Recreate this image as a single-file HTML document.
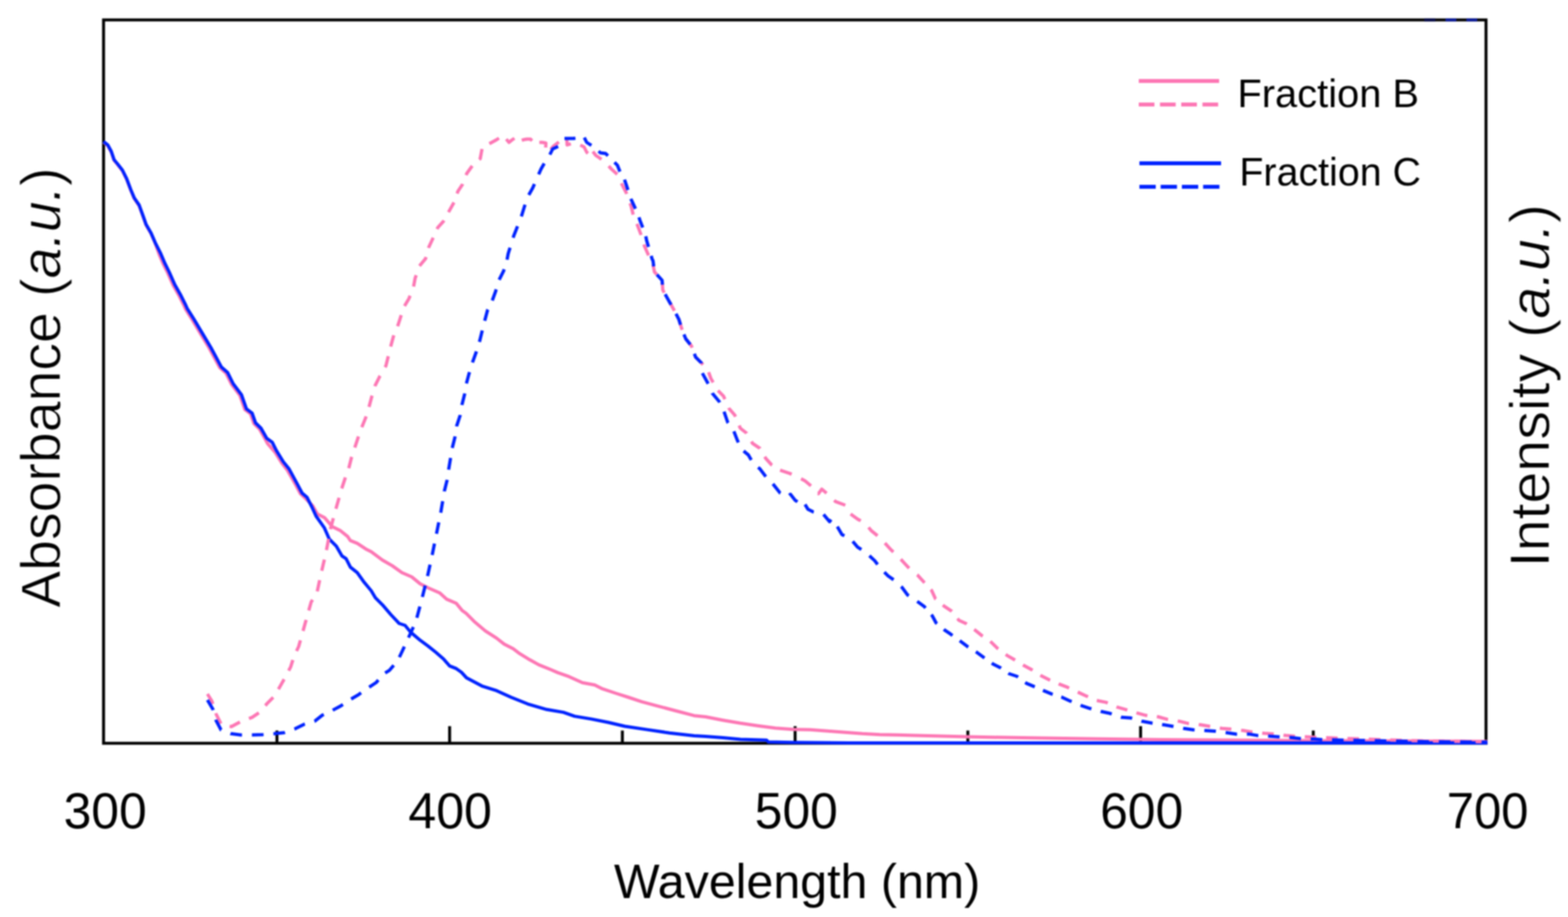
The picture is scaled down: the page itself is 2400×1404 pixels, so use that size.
<!DOCTYPE html>
<html><head><meta charset="utf-8"><title>Absorbance and emission spectra</title>
<style>html,body{margin:0;padding:0;background:#fff;width:2400px;height:1404px;overflow:hidden}svg{display:block;filter:blur(0.8px)}</style>
</head><body>
<svg width="2400" height="1404" viewBox="0 0 2400 1404">
<rect width="2400" height="1404" fill="#fff"/>
<g stroke="#000" stroke-width="4.5" fill="none">
<rect x="158.5" y="30.5" width="2116" height="1107.5"/>
<line x1="423.9" y1="1118.5" x2="423.9" y2="1138" /><line x1="688.2" y1="1111.8" x2="688.2" y2="1138" /><line x1="952.6" y1="1118.5" x2="952.6" y2="1138" /><line x1="1217.0" y1="1111.8" x2="1217.0" y2="1138" /><line x1="1481.4" y1="1118.5" x2="1481.4" y2="1138" /><line x1="1745.8" y1="1111.8" x2="1745.8" y2="1138" /><line x1="2010.1" y1="1118.5" x2="2010.1" y2="1138" />
</g>
<g fill="none" stroke-linejoin="round" stroke-width="5">
<polyline points="158.5,217.5 165.0,223.0 170.3,232.7 174.6,245.5 180.0,252.0 187.4,261.5 193.8,274.3 200.2,291.4 205.6,304.2 213.0,315.0 218.4,329.9 223.7,344.8 231.2,357.7 237.6,372.6 243.7,389.7 250.1,404.7 256.5,417.5 265.0,436.7 273.5,451.7 281.0,466.6 283.9,473.1 294.6,490.2 307.4,511.6 320.2,533.0 336.3,562.9 345.9,571.4 354.4,588.5 367.2,605.6 374.7,627.0 383.3,633.4 388.6,648.4 397.2,657.0 405.7,672.0 409.5,679.0 420.7,692.0 431.3,709.0 439.9,720.0 452.7,742.5 459.9,756.0 467.4,763.0 478.5,774.2 485.9,787.0 496.6,792.4 508.4,806.2 521.2,812.6 531.9,821.2 536.2,827.6 546.8,831.9 559.7,840.4 568.2,844.7 585.3,857.5 600.3,866.1 615.2,876.8 630.2,883.2 643.0,893.8 655.8,900.3 672.9,907.7 683.6,917.4 698.5,923.8 707.1,934.4 713.7,939.3 725.6,951.3 742.7,965.8 759.8,976.9 771.8,986.3 785.5,993.2 795.7,1000.9 811.1,1010.3 824.8,1017.9 841.9,1024.8 853.8,1029.9 870.9,1035.9 891.5,1045.3 910.3,1048.7 922.2,1054.7 942.7,1061.5 961.5,1067.5 982.1,1074.4 1004.3,1080.3 1033.3,1088.0 1062.4,1095.7 1080.0,1097.5 1106.7,1102.7 1133.3,1107.3 1160.0,1111.3 1186.7,1114.7 1213.3,1116.7 1240.0,1117.3 1266.7,1119.3 1293.3,1121.3 1320.0,1123.3 1346.7,1124.7 1373.3,1125.3 1400.0,1126.0 1479.7,1128.0 1579.4,1129.8 1679.0,1131.3 1778.8,1132.5 2000.0,1134.0 2150.0,1134.6 2276.5,1135.2" stroke="#FD76B4"/>
<polyline points="158.5,216.7 165.0,222.0 170.3,231.7 174.6,244.5 180.0,251.0 187.4,260.5 193.8,273.3 200.2,290.4 205.6,303.2 213.0,314.0 218.4,328.9 223.7,343.8 231.2,356.7 237.6,371.6 246.2,388.7 252.6,403.7 259.0,416.5 267.5,435.7 276.0,450.7 283.5,465.6 286.4,472.1 297.1,489.2 309.9,510.6 322.7,532.0 338.8,561.9 348.4,570.4 356.9,587.5 369.7,604.6 377.2,626.0 385.8,632.4 391.1,647.4 399.7,655.9 408.2,670.9 416.8,677.3 423.2,690.1 433.8,707.2 442.4,717.9 455.2,741.4 462.4,755.0 469.9,761.4 477.4,776.3 483.8,790.2 496.6,808.4 504.1,825.5 514.8,836.2 523.3,851.1 529.7,855.4 536.2,868.2 546.8,876.8 557.5,891.7 568.2,904.5 574.6,915.2 585.3,925.9 598.1,940.9 610.9,954.5 620.0,957.5 628.6,968.0 643.5,980.6 655.3,989.2 667.0,998.6 678.8,1008.8 688.2,1019.7 698.4,1023.7 706.2,1029.2 714.0,1037.8 725.8,1044.0 737.6,1050.3 760.0,1057.4 782.1,1067.5 807.7,1077.8 836.8,1086.3 862.4,1090.6 879.5,1096.6 905.1,1100.9 930.8,1106.0 956.4,1112.0 990.6,1117.1 1024.8,1122.2 1062.4,1126.5 1080.0,1127.5 1106.7,1129.6 1133.3,1132.0 1173.3,1133.3 1176.0,1136.0 1213.0,1136.7 1300.0,1137.4 2276.5,1137.6" stroke="#0022FF"/>
<polyline points="317.5,1062.5 324.2,1073.3 330.8,1093.3 339.2,1110.0 354.2,1112.5 368.3,1105.0 385.8,1098.3 398.3,1090.0 409.2,1076.7 420.0,1065.8 429.2,1050.0 436.7,1036.7 445.0,1020.8 450.0,1005.0 457.1,990.0 466.7,955.8 476.3,921.6 484.9,908.8 491.3,878.9 498.8,846.8 506.2,808.4 513.7,780.6 523.0,748.2 523.1,747.9" stroke="#FD76B4" stroke-dasharray="17.56 14.88"/>
<polyline points="523.1,747.9 528.4,731.9 533.8,717.0 537.9,700.8 543.3,684.5 548.7,668.3 554.1,653.4 559.6,639.9 565.0,622.3 569.0,607.4 574.4,589.8 581.2,576.3 590.7,560.0 594.7,543.8 598.8,527.5 602.9,512.6 608.3,500.5 612.3,488.3 617.8,470.7 625.9,457.2 632.6,440.9 635.4,426.0 642.1,407.1" stroke="#FD76B4" stroke-dasharray="17.83 15.11"/>
<polyline points="642.1,407.1 642.1,407.1 651.3,396.2 656.4,378.3 663.2,363.8 670.1,348.4 678.6,339.0 687.2,323.6 694.9,309.9 700.9,292.8 707.7,282.6 714.5,265.5 723.1,253.5 735.0,243.0 738.0,227.0 742.0,223.0 749.0,220.0" stroke="#FD76B4" stroke-dasharray="17.07 14.47"/>
<polyline points="749.0,220.0 749.0,220.0 760.0,214.0 766.0,210.0 771.0,208.0 779.0,218.0 784.0,214.0 790.0,210.0 796.0,216.0 801.0,214.0 806.0,213.0 812.0,213.0 818.0,219.0 820.0,221.0 824.0,218.0 830.0,218.0 835.5,219.0 835.0,231.0 840.0,232.0 847.0,224.0 857.0,216.0 862.0,212.0 867.5,210.0 867.5,210.0" stroke="#FD76B4" stroke-dasharray="17.02 14.43"/>
<polyline points="867.5,210.0 868.0,222.0 874.0,220.0 882.0,219.0 894.0,225.0 898.0,233.0 903.0,238.0 906.0,230.0 912.0,238.0 918.0,242.0 926.0,248.0 936.0,259.0 945.0,267.0 952.1,282.6 959.0,296.2 965.8,315.0 969.2,328.7 976.1,345.8 981.2,359.5 986.3,376.6 993.2,392.0 999.4,404.7" stroke="#FD76B4" stroke-dasharray="18.06 15.30"/>
<polyline points="999.4,404.7 999.5,405.0 1001.7,416.3 1013.4,429.1 1014.5,444.1 1024.1,461.2 1032.6,476.2 1039.1,489.0 1044.4,506.1 1049.7,518.9 1058.3,529.6 1064.7,546.7 1073.2,555.2 1083.9,568.0 1088.2,579.8 1098.9,598.0 1107.4,606.5 1116.0,625.7 1124.5,635.3 1133.1,655.6 1142.6,663.1 1151.9,678.9 1163.0,686.3 1172.2,702.0 1180.6,711.3 1194.0,719.9" stroke="#FD76B4" stroke-dasharray="17.14 14.52"/>
<polyline points="1194.0,719.9 1194.0,719.9 1208.9,724.9 1217.9,728.9 1231.8,735.9 1241.3,743.9 1252.8,755.8 1257.8,748.9 1270.7,759.8 1278.7,767.8 1294.7,773.8 1301.6,786.7 1312.6,794.7 1324.1,801.1 1333.3,812.2 1343.5,820.6 1353.7,830.7 1363.9,841.9 1374.1,851.1 1386.0,864.1 1395.4,874.3 1403.8,880.1" stroke="#FD76B4" stroke-dasharray="18.80 15.93"/>
<polyline points="1403.8,880.1 1404.6,880.7 1414.8,891.9 1425.9,903.9 1431.8,916.8 1444.8,927.8 1456.8,935.8 1467.7,949.7 1478.7,954.7 1493.7,965.7 1503.6,973.7 1515.6,981.6 1515.9,981.9" stroke="#FD76B4" stroke-dasharray="16.67 14.13"/>
<polyline points="1515.9,981.9 1526.6,992.6 1541.5,1003.6 1553.5,1010.5 1566.4,1018.5 1579.4,1025.5 1593.4,1034.5 1605.3,1040.5 1620.4,1047.0" stroke="#FD76B4" stroke-dasharray="16.76 14.21"/>
<polyline points="1620.4,1047.0 1621.3,1047.4 1634.2,1052.4 1649.2,1059.4 1662.2,1065.4 1678.1,1072.4 1693.1,1075.4 1709.0,1082.3 1723.0,1086.3 1738.9,1091.3 1753.9,1095.3 1770.7,1097.2" stroke="#FD76B4" stroke-dasharray="17.25 14.62"/>
<polyline points="1770.7,1097.2 1773.0,1097.5 1786.0,1101.2 1805.5,1104.4 1818.5,1107.7 1838.0,1109.8 1851.0,1112.0 1870.5,1115.3 1883.5,1116.3 1903.0,1118.5 1916.0,1120.7 1935.5,1122.8 1950.7,1123.9 1968.0,1126.1 1983.2,1127.2 2002.7,1128.3 2017.9,1129.3 2037.4,1129.8 2085.0,1131.5 2150.0,1133.7 2215.0,1134.8 2276.5,1135.8" stroke="#FD76B4" stroke-dasharray="17.70 15.00"/>
<polyline points="317.5,1071.7 325.8,1085.8 330.8,1103.3 338.3,1117.5 353.3,1123.3 368.3,1125.3 385.8,1125.3 402.5,1124.7 420.0,1123.3 435.0,1121.7 451.7,1115.8 465.0,1109.2 481.7,1104.2 493.3,1095.0 507.5,1088.3 521.7,1080.8 535.0,1071.7 549.2,1063.3 563.3,1053.3 575.8,1045.0 587.4,1031.7 596.0,1026.3 608.8,1011.4 615.8,996.7 625.9,975.0 636.6,951.5 646.2,915.2 653.7,885.3 661.2,851.1 668.6,814.8 675.0,782.7 680.1,752.3" stroke="#0022FF" stroke-dasharray="17.88 15.15"/>
<polyline points="680.1,752.3 680.1,752.2 684.1,736.0 686.8,718.4 689.5,702.2 692.2,685.9 696.3,669.7 699.0,652.1 704.4,635.8 707.1,619.6 711.2,603.3 713.9,587.1" stroke="#0022FF" stroke-dasharray="18.28 15.49"/>
<polyline points="713.9,587.1 713.9,587.1 717.9,572.2 723.3,554.6 728.7,539.7 734.2,522.1 738.2,505.9 742.3,489.6 746.3,474.7 753.1,461.2 758.5,446.3 763.9,428.7 770.7,415.2 776.1,397.6" stroke="#0022FF" stroke-dasharray="18.04 15.29"/>
<polyline points="776.1,397.6 776.1,397.6 777.8,388.5 786.3,361.2 789.7,352.6 798.3,330.4 806.8,303.1 815.4,287.7 822.2,272.3 828.0,259.0 836.0,245.0 841.0,238.0 846.0,228.0 857.0,223.0 864.0,212.0" stroke="#0022FF" stroke-dasharray="18.90 16.02"/>
<polyline points="864.0,212.0 864.0,212.0 878.0,212.0 890.0,210.0 894.0,209.9 898.0,218.0 909.0,225.0 919.0,234.0 927.0,235.0 945.0,253.0 951.0,268.0 955.6,274.0 965.8,304.8 976.1,327.0 979.5,337.3 988.0,359.5 989.7,368.0 998.3,397.1 999.5,399.2 1001.7,416.3 1005.5,420.5" stroke="#0022FF" stroke-dasharray="16.77 14.21"/>
<polyline points="1005.5,420.5 1013.4,429.1 1014.5,444.1 1024.1,461.2 1032.6,476.2 1039.1,489.0 1044.4,506.1 1049.7,518.9 1058.3,529.6 1064.7,546.7 1073.2,555.2 1073.2,568.0 1086.1,591.5 1090.3,602.2 1101.0,615.0 1107.4,627.9 1113.8,646.5 1122.2,657.6 1128.7,674.3 1134.3,687.2 1145.4,696.5 1152.8,709.4 1163.0,717.8 1172.2,729.8 1183.0,740.9" stroke="#0022FF" stroke-dasharray="18.44 15.62"/>
<polyline points="1183.0,740.9 1183.0,740.9 1194.0,754.8 1204.9,760.8 1209.9,756.8 1216.9,765.8 1225.9,771.8 1229.9,768.8 1236.8,779.8 1244.8,783.7 1259.8,786.7 1269.7,798.7 1272.7,794.7 1280.7,804.7 1288.7,818.6 1301.6,824.6 1312.6,837.6 1325.0,845.6 1338.9,858.5 1347.2,869.6 1359.3,881.7 1368.5,888.1 1380.6,899.3 1389.0,910.8 1403.9,920.8" stroke="#0022FF" stroke-dasharray="18.42 15.61"/>
<polyline points="1403.9,920.8 1403.9,920.8 1414.9,928.8 1426.9,942.8 1432.8,953.7 1445.8,964.7 1454.8,970.7 1469.7,981.6 1481.7,990.6 1494.7,998.6 1505.6,1006.6 1518.0,1015.4" stroke="#0022FF" stroke-dasharray="16.21 13.74"/>
<polyline points="1518.0,1015.4 1519.6,1016.5 1531.5,1022.5 1544.5,1031.5 1556.5,1035.5 1571.4,1046.4 1583.4,1051.4 1597.3,1057.4 1609.3,1062.4 1624.4,1067.1" stroke="#0022FF" stroke-dasharray="16.11 13.66"/>
<polyline points="1624.4,1067.1 1625.3,1067.4 1638.2,1073.4 1655.2,1080.3 1667.1,1084.3 1685.1,1089.3 1699.0,1092.3 1717.0,1098.3 1731.0,1099.3 1747.9,1104.3 1763.9,1107.3 1778.7,1109.4" stroke="#0022FF" stroke-dasharray="17.42 14.76"/>
<polyline points="1778.7,1109.4 1781.7,1109.8 1794.7,1112.0 1812.0,1115.3 1827.2,1117.4 1844.5,1118.5 1859.7,1119.6 1877.0,1121.8 1892.2,1123.9 1911.7,1123.9 1924.7,1126.1 1944.2,1127.2 1959.3,1128.3 1976.7,1129.3 1991.8,1131.1 2011.4,1131.5 2026.5,1132.6 2085.0,1133.7 2193.4,1135.8 2276.5,1136.3" stroke="#0022FF" stroke-dasharray="17.70 15.00"/>
</g>

<path d="M2180 30.5H2197" stroke="#050a48" stroke-width="4.5"/><path d="M2212.5 30.5H2229M2244.5 30.5H2261" stroke="#0a1a9a" stroke-width="4.5"/>
<g font-family="'Liberation Sans', sans-serif" fill="#000">
<text x="161" y="1268.4" font-size="78.7" text-anchor="middle" textLength="127" lengthAdjust="spacingAndGlyphs">300</text>
<text x="689" y="1268.4" font-size="78.7" text-anchor="middle" textLength="128" lengthAdjust="spacingAndGlyphs">400</text>
<text x="1218.8" y="1268.4" font-size="78.7" text-anchor="middle" textLength="127" lengthAdjust="spacingAndGlyphs">500</text>
<text x="1747.5" y="1268.4" font-size="78.7" text-anchor="middle" textLength="127" lengthAdjust="spacingAndGlyphs">600</text>
<text x="2277" y="1268.4" font-size="78.7" text-anchor="middle" textLength="125" lengthAdjust="spacingAndGlyphs">700</text>
<text x="1220" y="1375" font-size="74" text-anchor="middle">Wavelength (nm)</text>
<text transform="translate(92 593.5) rotate(-90)" stroke="#fff" stroke-width="1" font-size="86" text-anchor="middle" textLength="674" lengthAdjust="spacingAndGlyphs">Absorbance (<tspan font-style="italic">a.u.</tspan>)</text>
<text transform="translate(2371 590.5) rotate(-90)" stroke="#fff" stroke-width="1" font-size="86" text-anchor="middle" textLength="556" lengthAdjust="spacingAndGlyphs">Intensity (<tspan font-style="italic">a.u.</tspan>)</text>
<text x="1894" y="164" font-size="62" textLength="278" lengthAdjust="spacingAndGlyphs">Fraction B</text>
<text x="1897" y="284" font-size="62" textLength="278" lengthAdjust="spacingAndGlyphs">Fraction C</text>
</g>
<g stroke-width="6" fill="none">
<line x1="1743" y1="124" x2="1866" y2="124" stroke="#FD76B4"/>
<line x1="1743" y1="160" x2="1866" y2="160" stroke="#FD76B4" stroke-dasharray="24 8.5"/>
<line x1="1744" y1="250" x2="1869" y2="250" stroke="#0022FF"/>
<line x1="1744" y1="286" x2="1869" y2="286" stroke="#0022FF" stroke-dasharray="25 7.5"/>
</g>
</svg>
</body></html>
